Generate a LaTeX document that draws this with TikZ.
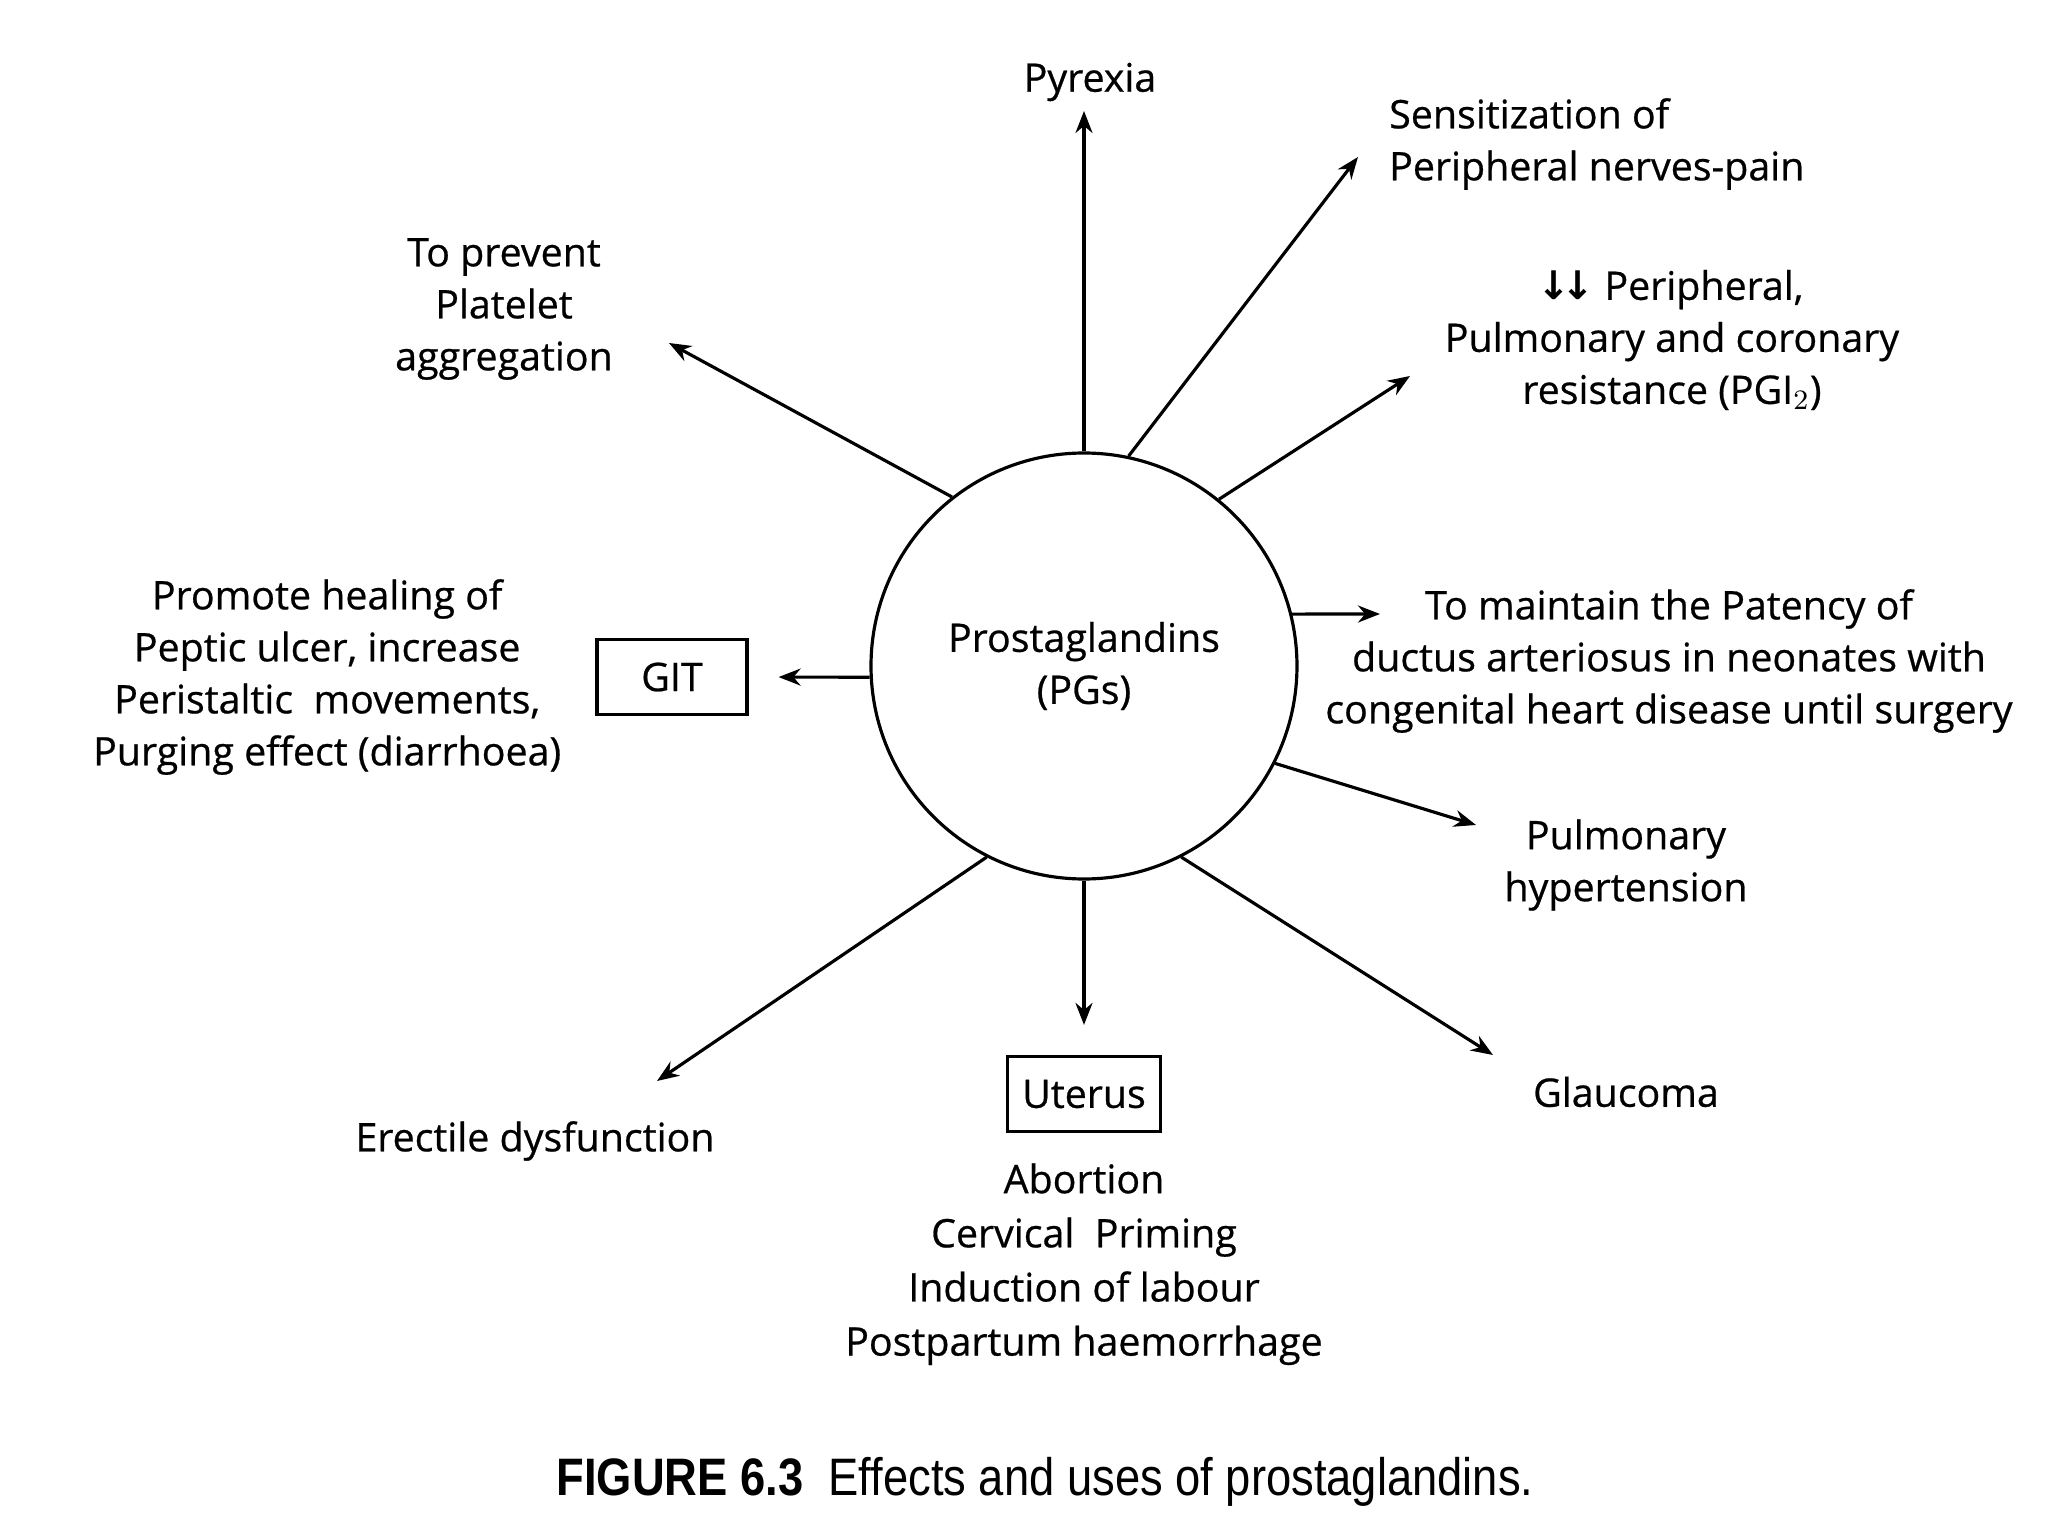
\documentclass[tikz,border=0pt]{standalone}
\usepackage{fontspec}
\setmainfont{Open Sans}[FakeBold=0.6]
\newfontfamily\capfont{Liberation Sans}[FakeStretch=0.86]
\newfontfamily\symfnt{DejaVu Sans}
\usetikzlibrary{arrows.meta, positioning}

\begin{document}
\begin{tikzpicture}[
      txt/.style={align=center, font=\fontsize{11.2}{14.8}\selectfont, inner sep=1pt},
      box/.style={rectangle, draw=black, line width=0.9pt, minimum height=0.75cm,
                  minimum width=1.5cm, inner xsep=0.15cm, font=\fontsize{11.2}{14.8}\selectfont},
      hub/.style={circle, draw=black, line width=0.9pt, minimum size=4.26cm,
                  align=center, font=\fontsize{11.2}{14.8}\selectfont},
      arr/.style={-{Stealth[length=2.2mm, width=1.7mm]}, line width=0.9pt}]
    \useasboundingbox (0,0) rectangle (20.48,-15.36);
    \node[hub] (pg) at (10.84,-6.66) {Prostaglandins\\ (PGs)};
    % effects round the hub
    \node[txt] (pyr) at (10.90,-0.82) {Pyrexia};
    \node[txt, anchor=west, align=left] (sens) at (13.85,-1.44) {Sensitization of\\ Peripheral nerves-pain};
    \node[txt] (res) at (16.72,-3.40) {{\symfnt\bfseries\kern-1pt↓\kern-2.5pt↓} Peripheral,\\ Pulmonary and coronary\\ resistance (PGI$_2$)};
    \node[txt] (pat) at (16.69,-6.61) {To maintain the Patency of\\ ductus arteriosus in neonates with\\ congenital heart disease until surgery};
    \node[txt] (ph) at (16.26,-8.65) {Pulmonary\\ hypertension};
    \node[txt] (gl) at (16.26,-10.92) {Glaucoma};
    \node[box] (ut) at (10.84,-10.94) {Uterus};
    \node[txt, below=0.26cm of ut, font=\fontsize{11.2}{15.4}\selectfont] (uses) {Abortion\\ Cervical\ \ Priming\\ Induction of labour\\ Postpartum haemorrhage};
    \node[txt] (ed) at (5.35,-11.41) {Erectile dysfunction};
    \node[box] (git) at (6.72,-6.77) {GIT};
    \node[txt, left=0.3cm of git] (gi) {Promote healing of\\ Peptic ulcer, increase\\ Peristaltic\ \ movements,\\ Purging effect (diarrhoea)};
    \node[txt] (pl) at (5.04,-3.09) {To prevent\\ Platelet\\ aggregation};
    % arrow tips
    \coordinate (tpyr) at (10.84,-1.11);
    \coordinate (tsens) at (13.58,-1.57);
    \coordinate (tres) at (14.10,-3.76);
    \coordinate (tpat) at (13.80,-6.14);
    \coordinate (tph) at (14.76,-8.25);
    \coordinate (tgl) at (14.93,-10.55);
    \coordinate (ted) at (6.57,-10.81);
    \coordinate (tpl) at (6.69,-3.43);
    \draw[arr] (pg.north) -- (tpyr);
    \draw[arr] (pg.78) -- (tsens);
    \draw[arr] (pg.51) -- (tres);
    \draw[arr] (pg.14) -- (tpat);
    \draw[arr] (pg.-27) -- (tph);
    \draw[arr] (pg.-63) -- (tgl);
    \draw[arr, shorten >=3mm] (pg.south) -- (ut.north);
    \draw[arr] (pg.-117) -- (ted);
    \draw[arr, shorten >=3mm] (pg.183) -- (git.east);
    \draw[arr] (pg.128) -- (tpl);
    \node (cap) at (10.45,-14.82) {\capfont\fontsize{15}{18}\selectfont\textbf{FIGURE 6.3}\ \ Effects and uses of prostaglandins.};
  \end{tikzpicture}
\end{document}
